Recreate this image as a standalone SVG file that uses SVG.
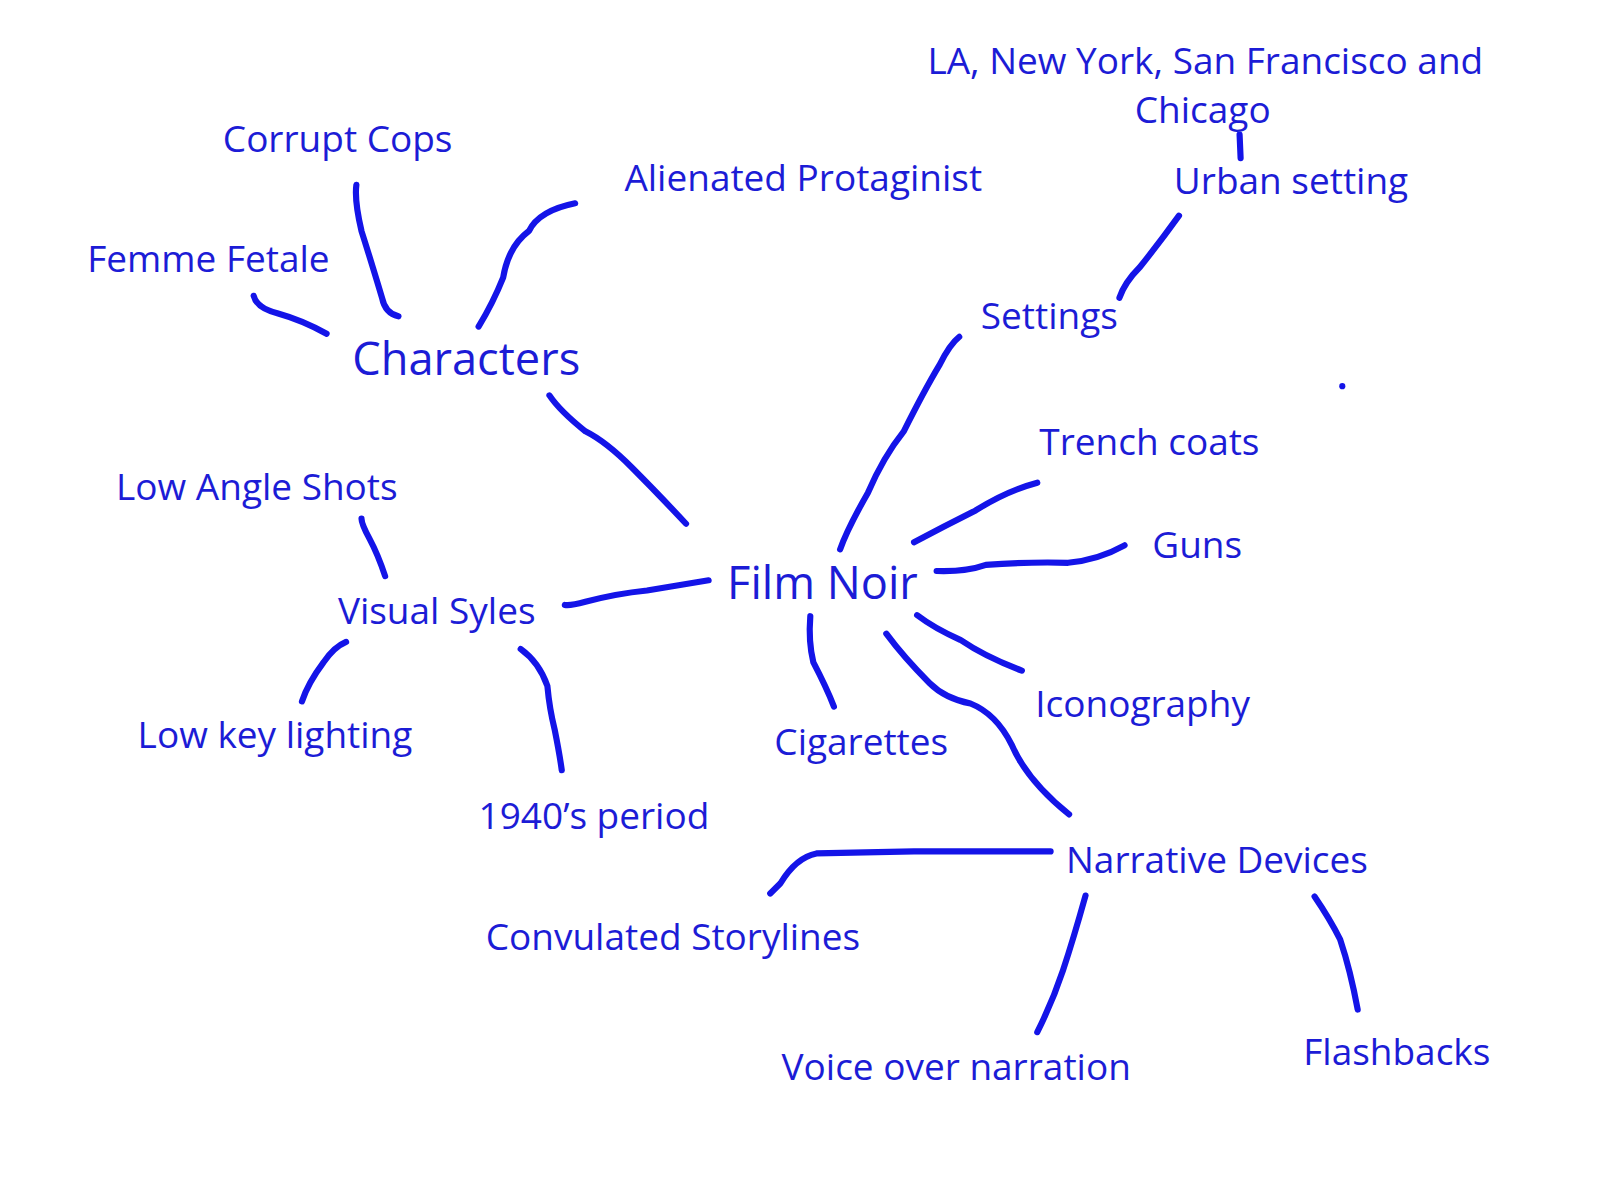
<svg xmlns="http://www.w3.org/2000/svg" width="1600" height="1200" viewBox="0 0 1600 1200">
<style>
text{font-family:"Open Sans","Noto Sans",sans-serif;fill:#1c1cd6;font-size:36px}
.big{font-size:44px}
.c path{fill:none;stroke:#1414e8;stroke-width:6;stroke-linecap:round;stroke-linejoin:round}
</style>
<rect width="1600" height="1200" fill="#fff"/>
<g transform="scale(1.027)">
<g class="c" id="connectors">
<path d="M668 510 Q640 480 615 455 Q590 430 570 420 Q545 400 535 385"/>
<path d="M318 325 Q295 312 270 305 Q250 300 247 288"/>
<path d="M388 308 Q375 305 372 290 Q360 250 352 225 Q345 195 347 180"/>
<path d="M466 318 Q480 295 490 270 Q495 240 515 225 Q525 205 560 198"/>
<path d="M690 565 Q660 570 630 575 Q600 578 570 586 Q555 590 550 589"/>
<path d="M375 561 Q368 540 360 525 Q352 510 352 505"/>
<path d="M337 625 Q325 630 315 645 Q300 665 294 683"/>
<path d="M507 632 Q525 645 533 668 Q535 690 540 710 Q545 735 547 750"/>
<path d="M818 535 Q825 515 845 480 Q860 445 880 420 Q900 380 915 355 Q925 335 934 328"/>
<path d="M1090 290 Q1095 275 1110 260 Q1130 235 1148 210"/>
<path d="M1207 131 L1208 154"/>
<path d="M890 528 Q920 512 950 497 Q980 478 1010 470"/>
<path d="M912 556 Q940 557 960 550 Q1000 547 1040 548 Q1070 545 1095 531"/>
<path d="M893 599 Q910 612 935 623 Q960 640 995 653"/>
<path d="M789 600 Q787 625 792 645 Q805 670 812 688"/>
<path d="M863 617 Q880 640 905 665 Q920 680 945 685 Q970 695 985 725 Q1000 760 1041 793"/>
<path d="M1023 829 Q950 829 890 829 Q850 830 795 831 Q775 835 760 860 Q752 868 750 870"/>
<path d="M1057 872 Q1045 915 1035 945 Q1025 975 1010 1005"/>
<path d="M1280 873 Q1295 895 1305 915 Q1315 945 1322 983"/>
</g>
<circle cx="1307" cy="376" r="3" fill="#1414e8"/>
<g id="n-filmnoir"><text class="big" x="708" y="583">Film Noir</text></g>
<g id="n-characters"><text class="big" x="343" y="365">Characters</text></g>
<g id="n-la"><text x="903" y="72">LA, New York, San Francisco and</text><text x="1105" y="120">Chicago</text></g>
<g id="n-cops"><text x="217" y="148">Corrupt Cops</text></g>
<g id="n-alien"><text x="608" y="186">Alienated Protaginist</text></g>
<g id="n-urban"><text x="1143" y="189">Urban setting</text></g>
<g id="n-femme"><text x="85" y="265">Femme Fetale</text></g>
<g id="n-settings"><text x="955" y="320">Settings</text></g>
<g id="n-trench"><text x="1012" y="443">Trench coats</text></g>
<g id="n-lowangle"><text x="113" y="487">Low Angle Shots</text></g>
<g id="n-guns"><text x="1122" y="543">Guns</text></g>
<g id="n-visual"><text x="329" y="608">Visual Syles</text></g>
<g id="n-icon"><text x="1008" y="698">Iconography</text></g>
<g id="n-lowkey"><text x="134" y="728">Low key lighting</text></g>
<g id="n-cig"><text x="754" y="735">Cigarettes</text></g>
<g id="n-1940"><text x="466" y="807">1940’s period</text></g>
<g id="n-narr"><text x="1038" y="850">Narrative Devices</text></g>
<g id="n-conv"><text x="473" y="925">Convulated Storylines</text></g>
<g id="n-flash"><text x="1269" y="1037">Flashbacks</text></g>
<g id="n-voice"><text x="761" y="1052">Voice over narration</text></g>
</g>
</svg>
